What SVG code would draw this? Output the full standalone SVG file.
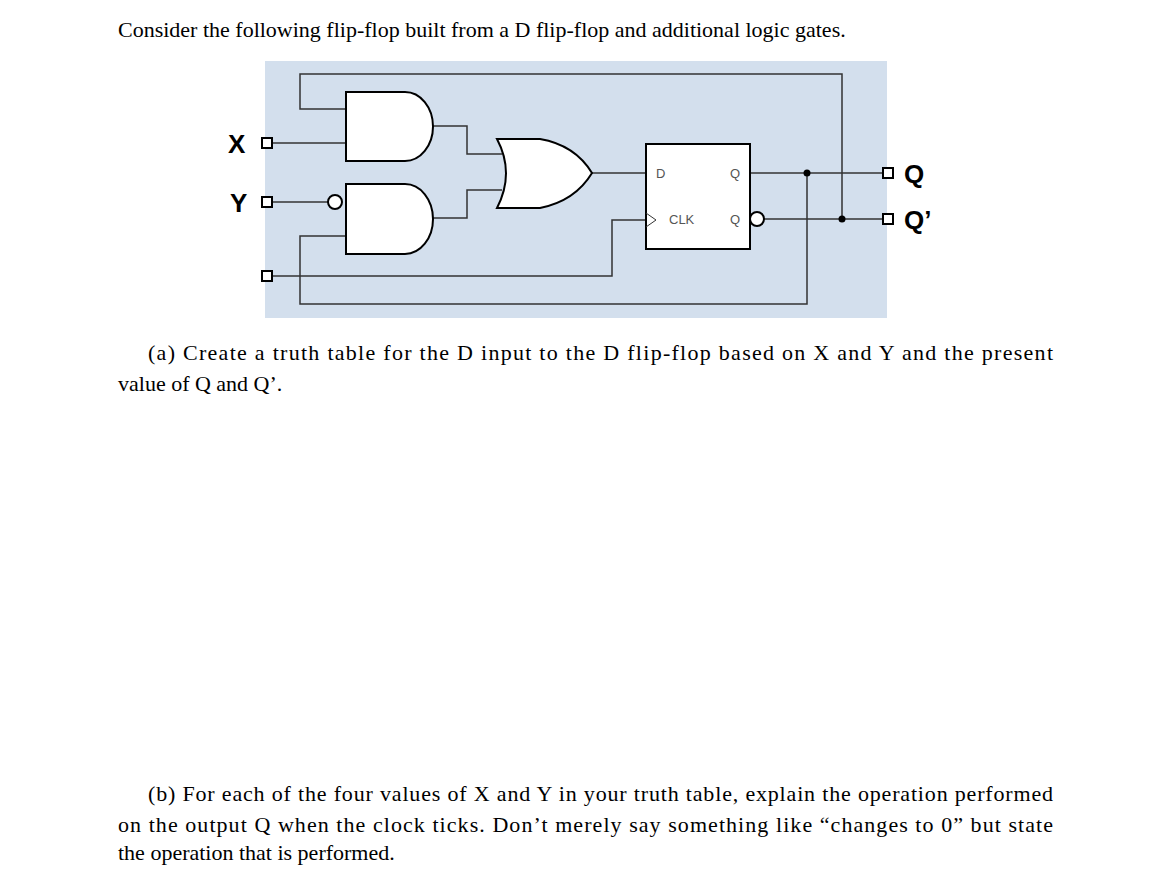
<svg xmlns="http://www.w3.org/2000/svg" width="1157" height="871" viewBox="0 0 1157 871">
<style>
.t{font-family:"Liberation Serif",serif;font-size:22px;fill:#000}
.w{fill:none;stroke:#333;stroke-width:1.5}
.g{fill:#fff;stroke:#000;stroke-width:2}
.p{fill:#fff;stroke:#000;stroke-width:2}
.l{font-family:"Liberation Sans",sans-serif;font-weight:bold;font-size:26px;fill:#000}
.s{font-family:"Liberation Sans",sans-serif;font-size:13px;fill:#555}
</style>
<rect width="1157" height="871" fill="#fff"/>
<text class="t" x="118" y="37">Consider the following flip-flop built from a D flip-flop and additional logic gates.</text>
<rect x="265" y="61" width="622" height="257" fill="#d3dfed"/>
<g id="wires">
<polyline class="w" points="346,109 300,109 300,74 842,74 842,219"/>
<line class="w" x1="272" y1="143" x2="346" y2="143"/>
<polyline class="w" points="433,126 467,126 467,154 502,154"/>
<line class="w" x1="272" y1="202" x2="328" y2="202"/>
<polyline class="w" points="346,236 300,236 300,304 807,304 807,173"/>
<polyline class="w" points="433,218 467,218 467,190 502,190"/>
<polyline class="w" points="272,276 612,276 612,220 646,220"/>
<line class="w" x1="592" y1="173" x2="646" y2="173"/>
<line class="w" x1="750" y1="173" x2="883" y2="173"/>
<line class="w" x1="764" y1="219" x2="883" y2="219"/>
<circle cx="807" cy="173" r="3.5" fill="#000"/>
<circle cx="842" cy="219" r="3.5" fill="#000"/>
</g>
<g id="and1"><path class="g" d="M346,92 H405 A28,34.5 0 0 1 405,161 H346 Z"/></g>
<g id="and2"><path class="g" d="M346,184 H405 A28,35 0 0 1 405,254 H346 Z"/><circle class="g" cx="335" cy="202" r="7"/></g>
<g id="or"><path class="g" d="M497,139 H540 Q575,145 592,173 Q575,201 540,208 H497 Q515,173 497,139 Z"/></g>
<g id="dff">
<rect class="g" x="646" y="144" width="104" height="105"/>
<polyline fill="none" stroke="#333" stroke-width="1" points="646,213 656,220 646,227"/>
<circle class="g" cx="757" cy="219" r="7"/>
<text class="s" x="656" y="178">D</text>
<text class="s" x="730" y="178">Q</text>
<text class="s" x="669" y="224">CLK</text>
<text class="s" x="730" y="224">Q</text>
</g>
<g id="pins">
<rect class="p" x="262" y="138" width="10" height="10"/>
<rect class="p" x="262" y="197" width="10" height="10"/>
<rect class="p" x="262" y="271" width="10" height="10"/>
<rect class="p" x="883" y="168" width="10" height="10"/>
<rect class="p" x="883" y="214" width="10" height="10"/>
<text class="l" x="228" y="153">X</text>
<text class="l" x="230" y="212">Y</text>
<text class="l" x="904" y="183">Q</text>
<text class="l" x="904" y="229">Q’</text>
</g>
<text class="t" x="148" y="360" textLength="905" lengthAdjust="spacing">(a) Create a truth table for the D input to the D flip-flop based on X and Y and the present</text>
<text class="t" x="118" y="391">value of Q and Q’.</text>
<text class="t" x="148" y="801" textLength="905" lengthAdjust="spacing">(b) For each of the four values of X and Y in your truth table, explain the operation performed</text>
<text class="t" x="118" y="832" textLength="935" lengthAdjust="spacing">on the output Q when the clock ticks.  Don’t merely say something like “changes to 0” but state</text>
<text class="t" x="118" y="860">the operation that is performed.</text>
</svg>
